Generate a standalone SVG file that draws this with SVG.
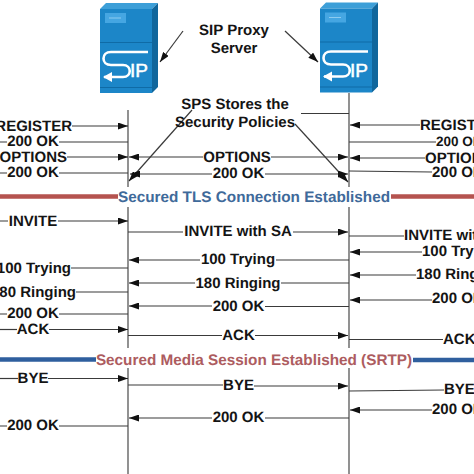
<svg xmlns="http://www.w3.org/2000/svg" width="474" height="474" viewBox="0 0 474 474">
<style>
text{font-family:"Liberation Sans",Arial,sans-serif;font-weight:700;font-size:15px;fill:#141414;text-anchor:middle;text-rendering:geometricPrecision}
.l{stroke:#3a3a3a;stroke-width:1.2;fill:none}
.a{stroke:#3a3a3a;stroke-width:1.2;fill:none;marker-end:url(#ah)}
.life{stroke:#777;stroke-width:1.6;fill:none}
.s{text-anchor:start}
.e{text-anchor:end}
.tls{fill:#3f6a9a;font-size:15.3px}
.med{fill:#ad5c60;font-size:15.3px}
.rb{stroke:#b5534f;stroke-width:4.5}
.bb{stroke:#2f5f9e;stroke-width:4.5}
.fl{stroke:#fff;stroke-width:2.6;fill:none}
</style>
<defs>
<marker id="ah" markerUnits="userSpaceOnUse" markerWidth="11" markerHeight="7" refX="10" refY="3.5" orient="auto"><path d="M0 0L10 3.500L0 7Z" fill="#111"/></marker>
<marker id="wh" markerUnits="userSpaceOnUse" markerWidth="10" markerHeight="11" refX="8" refY="5.500" orient="auto"><path d="M0 0.500L9 5.500L0 10.500Z" fill="#fff"/></marker>
<g id="srv">
<path d="M0 0L6 -6H58L52 0Z" fill="#3d9fd8"/>
<path d="M52 0L58 -6V78L52 84Z" fill="#10669c"/>
<rect width="52" height="84" fill="#1c86c8"/>
<rect x="5" y="4" width="21" height="10" fill="#45a6e2"/>
<path d="M9 9H21" stroke="#8ccbf0" stroke-width="1"/>
<path d="M0 33.500H52M0 78.500H52" stroke="#0f6ba6" stroke-width="1"/>
<path class="fl" marker-end="url(#wh)" d="M48 43H11C1 43 1 56 11 56H23C32 56 32 68 23 68H4"/>
<text x="30" y="68" class="s" style="fill:#fff;font-size:19px;font-weight:400;stroke:#fff;stroke-width:.5">IP</text>
</g>
</defs>
<rect width="474" height="474" fill="#fff"/>
<g id="server-left"><use href="#srv" x="100" y="9"/></g>
<g id="server-right"><use href="#srv" x="320" y="8.500"/></g>
<g id="connectors">
<path class="life" d="M128 110V187M128 207V348M128 368V474M349 93V187M349 207V348M349 368V474"/>
<path class="a" d="M183 31L160 62"/>
<path class="a" d="M285 31L318 62"/>
<path class="a" d="M192 110L129 181"/>
<path class="l" d="M301 113.500H349"/>
<path class="a" d="M295 124L348 182"/>
<path class="a" d="M72 126H128"/>
<path class="l" d="M0 142H7M59 142H128"/>
<path class="a" d="M67 157H128"/>
<path class="l" d="M0 173H7M59 173H128"/>
<path class="a" d="M203 157H129"/>
<path class="a" d="M212 174H130"/>
<path class="a" d="M271 157H348"/>
<path class="a" d="M265 174H348"/>
<path class="a" d="M420 125H350"/>
<path class="l" d="M349 142H436"/>
<path class="a" d="M425 158H350"/>
<path class="l" d="M349 171L432 172"/>
<path class="rb" d="M0 196.500H118M391 196.500H474"/>
<path class="a" d="M0 221H8M58 221H128"/>
<path class="l" d="M128 232H183"/>
<path class="a" d="M293 232H348"/>
<path class="l" d="M349 236H404"/>
<path class="a" d="M200 260H129"/>
<path class="l" d="M276 260H349"/>
<path class="l" d="M71 268H128"/>
<path class="a" d="M422 252H350"/>
<path class="a" d="M195 283H129"/>
<path class="l" d="M281 283H349"/>
<path class="l" d="M76 292H128"/>
<path class="a" d="M416 275H350"/>
<path class="a" d="M212 306H129"/>
<path class="l" d="M265 306.500H349"/>
<path class="l" d="M0 314H7M59 314H128"/>
<path class="a" d="M432 300H350"/>
<path class="a" d="M49 329.500H128"/>
<path class="l" d="M0 329.500H17"/>
<path class="l" d="M128 335.500H222"/>
<path class="a" d="M255 335.500H348"/>
<path class="l" d="M349 339.500H443"/>
<path class="bb" d="M0 359.500H96M413 360H474"/>
<path class="a" d="M48 378.500H128"/>
<path class="l" d="M0 378.500H18"/>
<path class="l" d="M128 385H223"/>
<path class="a" d="M254 386H348"/>
<path class="l" d="M349 391L444 390"/>
<path class="a" d="M212 418H129"/>
<path class="l" d="M265 418H349"/>
<path class="l" d="M0 426H7M59 426H128"/>
<path class="a" d="M432 410H350"/>
</g>
<g id="labels">
<text x="234" y="35">SIP Proxy</text>
<text x="234" y="53">Server</text>
<text x="235" y="109">SPS Stores the</text>
<text x="235" y="127">Security Policies</text>
<text x="72" y="131" class="e">REGISTER</text>
<text x="33" y="146">200 OK</text>
<text x="67" y="162" class="e">OPTIONS</text>
<text x="33" y="177">200 OK</text>
<text x="237" y="162">OPTIONS</text>
<text x="238.500" y="178">200 OK</text>
<text x="420" y="130" class="s">REGISTER</text>
<text x="436" y="146" class="s" style="font-size:13.500px">200 OK</text>
<text x="425" y="163" class="s">OPTIONS</text>
<text x="432" y="177" class="s">200 OK</text>
<text x="254" y="201.500" class="tls">Secured TLS Connection Established</text>
<text x="33" y="225.500">INVITE</text>
<text x="238" y="236">INVITE with SA</text>
<text x="404" y="240" class="s">INVITE with SA</text>
<text x="238" y="264">100 Trying</text>
<text x="71" y="273" class="e">100 Trying</text>
<text x="422" y="256" class="s">100 Trying</text>
<text x="238" y="288">180 Ringing</text>
<text x="76" y="297" class="e">180 Ringing</text>
<text x="416" y="279" class="s">180 Ringing</text>
<text x="238.500" y="311">200 OK</text>
<text x="33" y="318">200 OK</text>
<text x="432" y="303" class="s">200 OK</text>
<text x="33" y="334">ACK</text>
<text x="238.500" y="340">ACK</text>
<text x="443" y="344" class="s">ACK</text>
<text x="254" y="364.500" class="med">Secured Media Session Established (SRTP)</text>
<text x="33" y="383">BYE</text>
<text x="238.500" y="390">BYE</text>
<text x="444" y="394" class="s">BYE</text>
<text x="238.500" y="422">200 OK</text>
<text x="33" y="430">200 OK</text>
<text x="432" y="414" class="s">200 OK</text>
</g>
</svg>
